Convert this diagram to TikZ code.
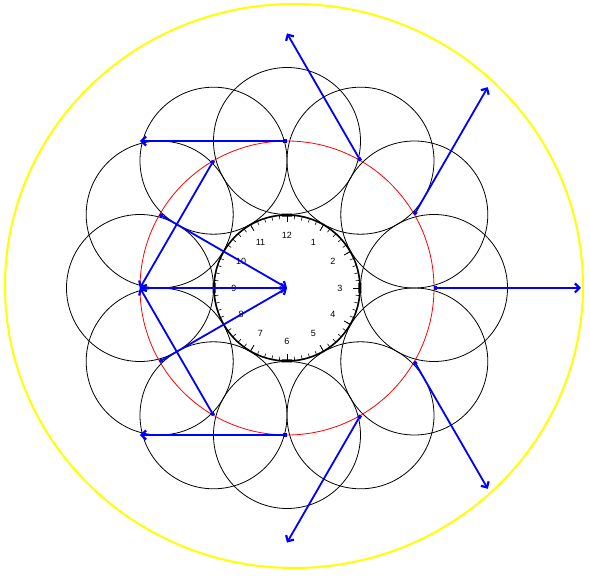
\documentclass[tikz,border=0pt]{standalone}
\usepackage{fontspec}
\setmainfont{Liberation Sans}
\usetikzlibrary{arrows.meta,calc}
\definecolor{pureblue}{RGB}{0,0,255}
\definecolor{pureyellow}{RGB}{255,255,0}
\definecolor{purered}{RGB}{255,0,0}
\tikzset{
  ring/.style={draw=black, line width=0.8pt},
  redring/.style={draw=purered, line width=0.8pt},
  outerring/.style={draw=pureyellow, line width=2pt},
  vec/.style={draw=pureblue, line width=1.8pt, {Square[length=3.5pt,width=3.5pt]}-{Straight Barb[length=4.5pt,width=9pt,line width=2.2pt]}},
  hournum/.style={font=\fontsize{9}{9}\selectfont, inner sep=0pt},
}
\begin{document}
\begin{tikzpicture}[x=1pt,y=1pt]
\useasboundingbox (-287,-293) rectangle (303,288);
\fill[white] (-287,-293) rectangle (303,288);
% outer yellow ring
\draw[outerring] (7,2) ellipse [x radius=289, y radius=282];
% twelve circles
\foreach \a in {0,30,...,330} {
  \coordinate (p\a) at (\a:147);
  \draw[ring] (p\a) circle (73.5);
}
% red circle
\coordinate (c) at (0,0);
\draw[redring] (c) circle (147);
% clock
\fill[white] (c) circle (73);
\draw[black, line width=1.6pt] (c) circle (73);
\foreach \m in {0,...,59} {
  \draw[black, line width=0.6pt] (\m*6:73) -- (\m*6:69);
}
\foreach \h in {0,...,11} {
  \draw[black, line width=0.8pt] (\h*30:73) -- (\h*30:66);
}
\foreach \q in {0,90,180,270} {
  \draw[black, line width=3pt] (\q-4:73) arc[start angle=\q-4, end angle=\q+4, radius=73];
}
\foreach \h in {1,...,12} {
  \node[hournum] (h\h) at ({90-30*\h}:53) {\h};
}
% blue vectors
\foreach \a/\d in {0/0, 30/60, 60/120, 90/180, 120/240, 240/120, 270/180, 300/240, 330/300} {
  \coordinate (e\a) at ($(p\a)+(\d:147)$);
}
\foreach \a in {0,30,60,90,120,240,270,300,330} {
  \draw[vec] (p\a) -- (e\a);
}
\draw[vec] (p150) -- (c);
\draw[vec] (p180) -- (c);
\draw[vec] (p210) -- (c);
\end{tikzpicture}
\end{document}
